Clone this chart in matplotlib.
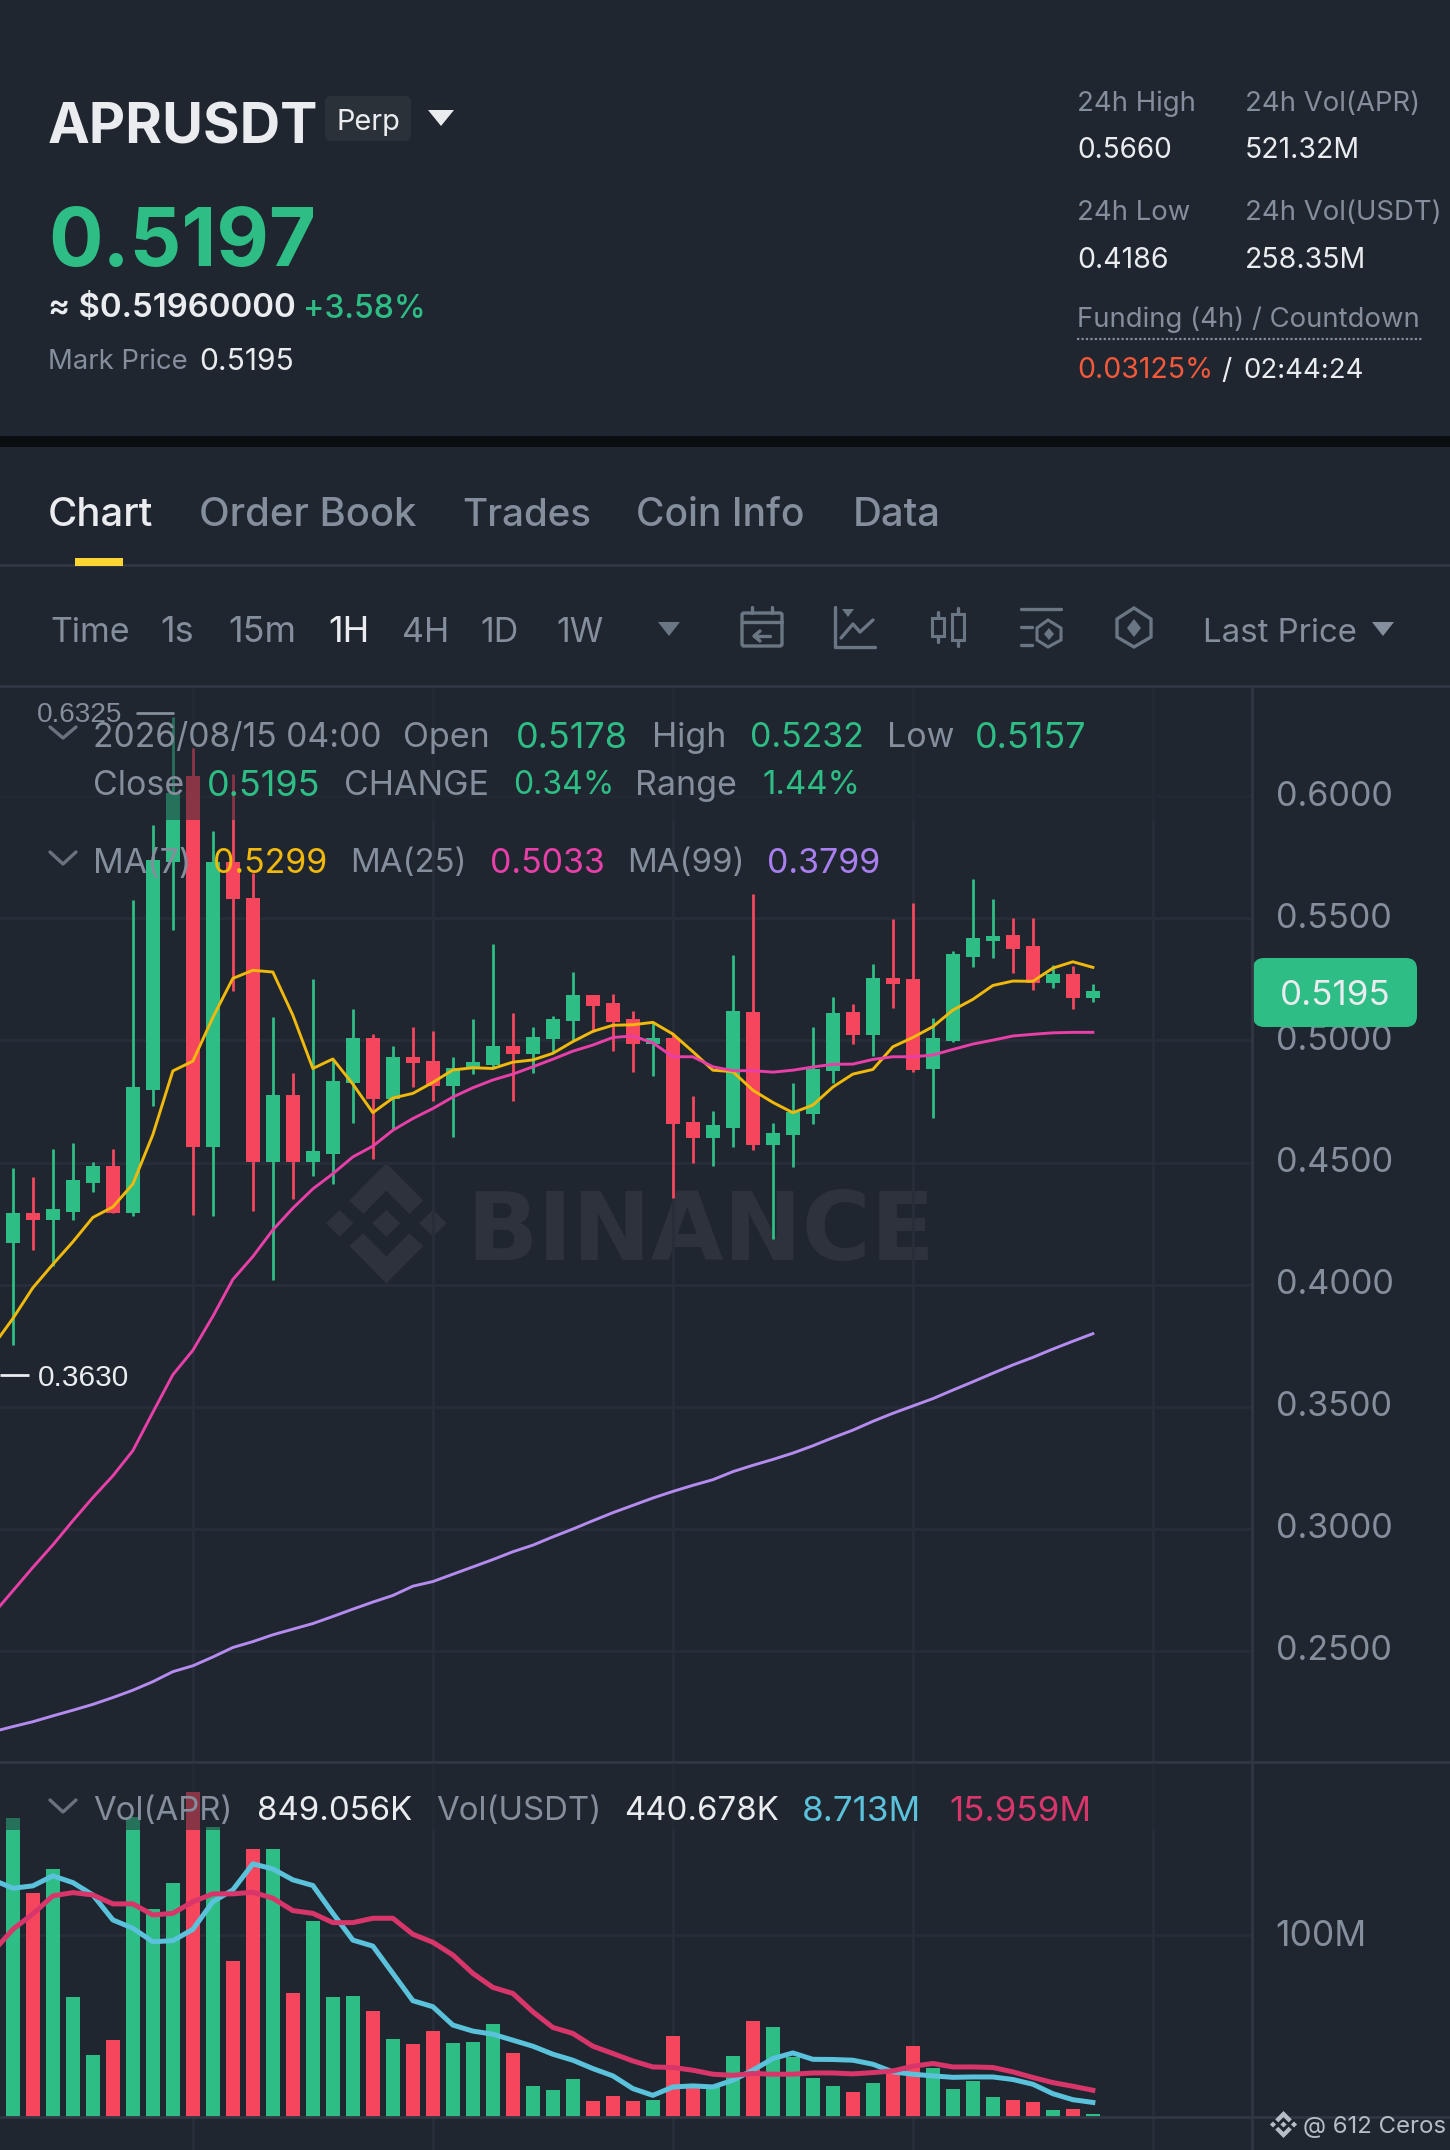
import matplotlib
matplotlib.use('Agg')
import matplotlib.pyplot as plt
from matplotlib.patches import Polygon, Rectangle, FancyBboxPatch
from matplotlib.lines import Line2D
from matplotlib.ticker import FixedLocator, FuncFormatter
from matplotlib.transforms import ScaledTranslation

plt.rcParams['font.family'] = ['Inter', 'DejaVu Sans']

BG = '#1f2630'
GREEN = '#2ebd85'
RED = '#f6465d'
GRAY = '#848e9c'
WHITE = '#eaecef'
LINE = '#303744'
GRID = '#272e39'
WM = '#2e323d'
ICON = '#6b7685'
YELLOW = '#f0b90b'
PINK = '#e83fa8'
PURPLE = '#b58bf0'
BLUE = '#5bc2dc'
CRIMSON = '#d8366a'

# candles
opens = [.4170, .4292, .4264, .4297, .4418, .4484, .4294, .4798, .5730, .6082, .4565, .5730, .5585, .4501,
         .4776, .4501, .4535, .4824, .5011, .4762, .4934, .4917, .4815, .4885, .4900, .4979, .4943, .5004,
         .5078, .5184, .5153, .5087, .4986, .5011, .4665, .4600, .4641, .5116, .4570, .4611, .4698, .4873,
         .5115, .5022, .5255, .5251, .4881, .4996, .5343, .5406, .5430, .5387, .5234, .5272, .5174]
closes = [.4292, .4265, .4309, .4427, .4484, .4294, .4811, .5739, .6012, .4565, .5730, .5577, .4501, .4776,
          .4501, .4546, .4834, .5011, .4762, .4934, .4907, .4815, .4885, .4911, .4979, .4943, .5013, .5087,
          .5184, .5142, .5077, .4986, .5011, .4656, .4600, .4652, .5119, .4572, .4619, .4708, .4884, .5113,
          .5022, .5254, .5232, .4878, .5008, .5352, .5419, .5429, .5376, .5234, .5272, .5174, .5201]
highs = [.4478, .4441, .4557, .4578, .4501, .4557, .5573, .5884, .6326, .6198, .5856, .6091, .5686, .5097,
         .4866, .5250, .4924, .5129, .5028, .4977, .5056, .5037, .4930, .5086, .5393, .5112, .5054, .5100,
         .5279, .5187, .5190, .5122, .5077, .5029, .4771, .4712, .5348, .5600, .4663, .4824, .5056, .5176,
         .5149, .5312, .5496, .5564, .5090, .5367, .5660, .5578, .5500, .5500, .5307, .5305, .5232]
lows = [.3754, .4143, .4077, .4265, .4378, .4294, .4279, .4730, .5451, .4284, .4279, .5203, .4303, .4017,
        .4350, .4444, .4412, .4663, .4516, .4636, .4809, .4753, .4606, .4862, .4887, .4753, .4868, .4954,
        .4999, .5036, .4958, .4872, .4855, .4355, .4500, .4486, .4562, .4553, .4187, .4480, .4656, .4827,
        .4986, .4936, .5131, .4872, .4684, .4995, .5302, .5339, .5277, .5206, .5213, .5128, .5157]

# moving averages start one candle left of the visible edge
ma7 = [.3748, .3861, .3987, .4083, .4175, .4275, .4318, .4412, .4614, .4875, .4915, .5094, .5254, .5287, .5280,
       .5103, .4885, .4924, .4821, .4704, .4764, .4783, .4828, .4879, .4888, .4885, .4911, .4920, .4947, .4995,
       .5037, .5062, .5064, .5074, .5026, .4954, .4878, .4872, .4796, .4746, .4704, .4735, .4809, .4862, .4881,
       .4974, .5012, .5056, .5124, .5168, .5225, .5243, .5242, .5296, .5322, .5299]
ma25 = [.2650, .2746, .2842, .2934, .3033, .3128, .3217, .3320, .3477, .3631, .3731, .3870, .4021, .4115, .4224,
        .4313, .4392, .4454, .4523, .4567, .4632, .4680, .4721, .4768, .4806, .4838, .4862, .4892, .4923, .4956,
        .4981, .5012, .5018, .4990, .4933, .4933, .4892, .4876, .4876, .4870, .4878, .4891, .4902, .4903, .4922,
        .4933, .4933, .4940, .4963, .4985, .5001, .5018, .5025, .5031, .5033, .5033]
ma99 = [.2169, .2190, .2210, .2234, .2257, .2281, .2309, .2339, .2374, .2415, .2439, .2475, .2514, .2538, .2566,
        .2589, .2612, .2641, .2671, .2700, .2727, .2765, .2784, .2814, .2844, .2874, .2906, .2933, .2967, .2999,
        .3033, .3066, .3096, .3126, .3153, .3178, .3201, .3234, .3260, .3284, .3310, .3340, .3373, .3404, .3440,
        .3473, .3503, .3533, .3568, .3602, .3637, .3671, .3702, .3736, .3768, .3799]

# volume in millions
volumes = [164.2, 123.1, 136.3, 66.1, 34.3, 42.2, 164.8, 114.1, 128.4, 178.5, 159.1, 85.9, 147.2, 147.2, 68.4,
           107.5, 66.1, 66.4, 58.2, 42.6, 40.0, 47.0, 40.4, 41.1, 51.2, 35.0, 17.1, 14.7, 21.1, 8.8, 11.7, 8.6,
           9.2, 44.4, 18.3, 16.5, 33.4, 52.7, 49.7, 33.0, 21.7, 16.9, 13.6, 18.9, 24.8, 38.9, 27.0, 15.6, 19.6,
           11.2, 9.2, 8.3, 3.7, 4.4, 1.8]
vol_ma_a = [130.3, 125.7, 127.0, 132.5, 128.8, 122.0, 108.3, 103.7, 96.3, 96.9, 103.1, 118.3, 124.8, 139.1, 136.3,
            130.3, 127.2, 111.9, 97.2, 93.9, 78.9, 63.9, 60.6, 50.5, 47.2, 45.5, 42.2, 38.9, 34.5, 31.2, 26.6,
            22.6, 15.6, 11.9, 16.5, 17.1, 16.5, 20.2, 25.7, 32.1, 35.2, 31.7, 31.6, 31.2, 29.0, 24.8, 23.5, 22.6,
            21.8, 22.0, 22.0, 20.6, 18.0, 12.8, 9.5, 8.0]
vol_ma_b = [90.8, 103.1, 111.6, 121.5, 123.3, 122.0, 117.1, 117.1, 111.0, 111.9, 118.3, 122.6, 122.6, 123.5, 120.2,
            113.4, 111.9, 106.8, 106.8, 109.2, 109.2, 100.4, 96.0, 89.0, 78.9, 71.2, 67.9, 57.8, 49.2, 45.9, 38.9,
            34.9, 30.8, 27.5, 27.2, 25.7, 23.5, 22.9, 23.9, 23.5, 23.5, 24.2, 24.2, 23.7, 24.4, 25.3, 27.9, 29.4,
            27.5, 27.5, 27.2, 24.8, 21.7, 18.9, 16.9, 14.7]

price_ticks = [.25, .30, .35, .40, .45, .50, .55, .60]
time_ticks = [9, 21, 33, 45, 57]

W, H = 1450, 2150
AX_R = 1252
PRICE_TOP, PRICE_BOT = 686, 1761.7
VOL_BOT = H

fig = plt.figure(figsize=(14.5, 21.5), dpi=100, facecolor=BG)


def make_axes(left, top, right, bottom, z):
    a = fig.add_axes([left / W, 1 - bottom / H, (right - left) / W, (bottom - top) / H], zorder=z)
    a.patch.set_visible(False)
    return a


under = make_axes(0, 0, W, H, 0)
ax = make_axes(0, PRICE_TOP, AX_R, PRICE_BOT, 1)
axv = make_axes(0, PRICE_BOT, AX_R, VOL_BOT, 1)
top = make_axes(0, 0, W, H, 3)
for a in (under, top):
    a.set_xlim(0, W)
    a.set_ylim(H, 0)
    a.axis('off')


# watermark under the candles
def logo(px, py, scale, target, color, zorder=1):
    shapes = [
        [(0, -60), (37, -22.7), (23, -9.3), (0, -32.7), (-23, -9.3), (-37, -22.7)],
        [(0, 60), (37, 22.7), (23, 10), (0, 33.3), (-23, 10), (-37, 22.7)],
        [(0, -13.3), (14, 0), (0, 13.3), (-14, 0)],
        [(-46.7, -13.3), (-33, 0), (-46.7, 13.3), (-60.4, 0)],
        [(46.7, -13.3), (60.4, 0), (46.7, 13.3), (33, 0)],
    ]
    for s in shapes:
        target.add_patch(Polygon([(px + a * scale, py + b * scale) for a, b in s], closed=True, fc=color, ec='none', zorder=zorder))


logo(386.3, 1223.3, 1, under, WM)
under.text(466, 1224, 'BINANCE', color=WM, fontsize=67.5, fontweight='bold', family='DejaVu Sans', ha='left', va='center_baseline')

# price pane
xs = list(range(len(opens)))
ma_xs = list(range(-1, len(opens)))
up = [c >= o for o, c in zip(opens, closes)]
colors = [GREEN if u else RED for u in up]
ax.vlines(xs, lows, highs, colors=colors, linewidth=2.0, zorder=3)
ax.bar(xs, [abs(c - o) for o, c in zip(opens, closes)], bottom=[min(o, c) for o, c in zip(opens, closes)],
       width=0.7, color=colors, zorder=3)
ax.plot(ma_xs, ma7, color=YELLOW, lw=2.1, zorder=4)
ax.plot(ma_xs, ma25, color=PINK, lw=2.1, zorder=4)
ax.plot(ma_xs, ma99, color=PURPLE, lw=2.1, zorder=4)

# x runs so that candle 0 is at pixel 12.86, 20 px per candle
x_left = -12.86 / 20
x_right = (AX_R - 12.86) / 20
ax.set_xlim(x_left, x_right)
ax.set_ylim(.55 - (PRICE_BOT - 918.3) / 122.1 * .05, .55 + (918.3 - PRICE_TOP) / 122.1 * .05)
ax.yaxis.tick_right()
ax.yaxis.set_major_locator(FixedLocator(price_ticks))
ax.yaxis.set_major_formatter(FuncFormatter(lambda v, p: '%.4f' % v))
ax.xaxis.set_major_locator(FixedLocator(time_ticks))
ax.tick_params(axis='x', length=0, labelbottom=False)
ax.tick_params(axis='y', length=0, pad=17, labelcolor=GRAY, labelsize=24.6)
ax.grid(True, color=GRID, lw=2.0, zorder=0)
ax.set_axisbelow(True)
for s in ax.spines.values():
    s.set_visible(False)
for lab in ax.get_yticklabels():
    lab.set_transform(lab.get_transform() + ScaledTranslation(0, 3 / 100, fig.dpi_scale_trans))

ax.hlines(.3630, x_left, x_left + 29 / 20, color=WHITE, lw=2.0, zorder=5)
ax.annotate('0.3630', (x_left + 38 / 20, .3630), xytext=(0, -2), textcoords='offset points', color=WHITE, fontsize=21.5,
            va='center', ha='left', family=['Liberation Sans', 'DejaVu Sans'], zorder=5)

# volume pane
axv.bar(xs, volumes, width=0.7, color=colors, zorder=3)
axv.plot(ma_xs, vol_ma_a, color=BLUE, lw=3.6, zorder=4)
axv.plot(ma_xs, vol_ma_b, color=CRIMSON, lw=3.6, zorder=4)
axv.set_xlim(x_left, x_right)
axv.set_ylim(-(VOL_BOT - 2117) / 1.82, (2117 - PRICE_BOT) / 1.82)
axv.yaxis.tick_right()
axv.yaxis.set_major_locator(FixedLocator([100]))
axv.yaxis.set_major_formatter(FuncFormatter(lambda v, p: '%dM' % v))
axv.xaxis.set_major_locator(FixedLocator(time_ticks))
axv.tick_params(axis='x', length=0, labelbottom=False)
axv.tick_params(axis='y', length=0, pad=17, labelcolor=GRAY, labelsize=25.5)
axv.grid(True, color=GRID, lw=2.0, zorder=0)
axv.set_axisbelow(True)
for s in axv.spines.values():
    s.set_visible(False)
for lab in axv.get_yticklabels():
    lab.set_transform(lab.get_transform() + ScaledTranslation(0, 1.5 / 100, fig.dpi_scale_trans))


def T(x, y, s, size=35, color=GRAY, weight='normal', ha='left', family=None):
    kw = {'family': family} if family else {}
    top.text(x, y + 6, s, fontsize=size * 0.72, color=color, fontweight=weight, ha=ha, va='center', zorder=10, **kw)


def L(xa, ya, color=ICON, lw=2.4, **kw):
    top.add_line(Line2D(xa, ya, color=color, lw=lw, solid_capstyle='round', zorder=10, **kw))


def tri(x0, x1, y0, y1, color):
    top.add_patch(Polygon([(x0, y0), (x1, y0), ((x0 + x1) / 2, y1)], closed=True, fc=color, ec='none', zorder=10))


# dim bands behind the legends
top.add_patch(Rectangle((0, PRICE_TOP), AX_R, 820 - PRICE_TOP, fc=BG, ec='none', alpha=0.5, zorder=1))
top.add_patch(Rectangle((0, PRICE_BOT), AX_R, 1830 - PRICE_BOT, fc=BG, ec='none', alpha=0.5, zorder=1))

# rules
top.add_patch(Rectangle((0, 436), W, 11, fc='#0b0e11', ec='none', zorder=2))
for yy in (565, 686, PRICE_BOT, 2117):
    L([0, W], [yy, yy], color=LINE, lw=2.0)
L([AX_R, AX_R], [PRICE_TOP, H], color=LINE, lw=2.0)
top.add_patch(Rectangle((75, 558), 48, 8, fc='#fcd535', ec='none', zorder=11))

# header
T(48, 122, 'APRUSDT', 56, WHITE, 'bold')
top.add_patch(FancyBboxPatch((325, 96), 86, 45, boxstyle='round,pad=0,rounding_size=6', fc='#2b3139', ec='none', zorder=9))
T(368, 116, 'Perp', 29, WHITE, ha='center')
tri(428, 454, 110, 126, WHITE)
T(48, 239, '0.5197', 81, GREEN, 'bold')
T(48, 303, '≈ $0.51960000', 33, WHITE, 'semibold')
T(303, 303, '+3.58%', 32, GREEN, 'medium')
T(48, 356, 'Mark Price', 27.5, GRAY)
T(199, 356, '0.5195', 30, WHITE)

T(1077, 98, '24h High', 27.5)
T(1077, 145, '0.5660', 28, WHITE)
T(1245, 98, '24h Vol(APR)', 27.5)
T(1245, 145, '521.32M', 28.5, WHITE)
T(1077, 207, '24h Low', 27.5)
T(1077, 254, '0.4186', 28.5, WHITE)
T(1245, 207, '24h Vol(USDT)', 27.5)
T(1245, 254, '258.35M', 28.5, WHITE)
T(1077, 314, 'Funding (4h) / Countdown', 27.5)
top.plot([1077, 1422], [339, 339], color=GRAY, lw=1.6, linestyle=(0, (1, 1)), zorder=10)
T(1077, 365, '0.03125%', 28.5, '#f6593a')
T(1221, 365, '/', 28.5, WHITE)
T(1243, 365, '02:44:24', 27.5, WHITE)

# tabs
T(48, 510, 'Chart', 40, WHITE, 'medium')
T(199, 510, 'Order Book', 40, GRAY, 'medium')
T(462, 510, 'Trades', 38.5, GRAY, 'medium')
T(636, 510, 'Coin Info', 39, GRAY, 'medium')
T(853, 510, 'Data', 40, GRAY, 'medium')

# toolbar
T(50, 627, 'Time', 34)
T(160, 627, '1s', 36)
T(228, 627, '15m', 36)
T(328, 627, '1H', 36, WHITE)
T(402, 627, '4H', 34)
T(480, 627, '1D', 34)
T(556, 627, '1W', 34)
tri(658, 680, 622, 636, ICON)
T(1203, 627, 'Last Price', 33)
tri(1372, 1394, 622, 636, GRAY)

# calendar icon
top.add_patch(FancyBboxPatch((742, 613), 40, 33, boxstyle='round,pad=0,rounding_size=2', fc='none', ec=ICON, lw=2.4, zorder=10))
L([742, 782], [622, 622])
L([752, 752], [607, 613])
L([772, 772], [607, 613])
L([754, 770], [636, 636])
L([760, 754, 760], [631, 636, 641])
# line chart icon
L([835, 835, 875], [607, 647, 647])
L([841, 853, 860, 873], [638, 624, 632, 620])
tri(842, 854, 609, 617, ICON)
# candle icon
for cx, y0, y1, w0, w1 in ((938, 612, 642, 618, 636), (958, 608, 646, 614, 640)):
    L([cx, cx], [y0, y1])
    top.add_patch(Rectangle((cx - 6, w0), 12, w1 - w0, fc=BG, ec=ICON, lw=2.2, zorder=10))
# settings icon
L([1021, 1061], [609, 609])
L([1021, 1032], [627, 627])
L([1021, 1032], [645, 645])
top.add_patch(Polygon([(1048, 620), (1061, 628), (1061, 640), (1048, 647), (1037, 640), (1037, 628)], closed=True, fc='none', ec=ICON, lw=2.2, zorder=10))
top.add_patch(Polygon([(1049, 628), (1054, 634), (1049, 640), (1044, 634)], closed=True, fc=ICON, ec='none', zorder=10))
# hexagon icon
top.add_patch(Polygon([(1134, 608), (1151, 619), (1151, 637), (1134, 647), (1117, 637), (1117, 619)], closed=True, fc='none', ec=ICON, lw=2.4, zorder=10))
top.add_patch(Polygon([(1134, 619), (1141, 628), (1134, 637), (1127, 628)], closed=True, fc=ICON, ec='none', zorder=10))

# legends
CH = '#69727f'
L([50, 63, 76], [727, 738, 727], color=CH, lw=2.4)
L([50, 63, 76], [852, 864, 852], color=CH, lw=2.4)
L([50, 63, 76], [1800, 1812, 1800], color=CH, lw=2.4)
T(37, 709, '0.6325', 28, GRAY, family=['Liberation Sans', 'DejaVu Sans'])
L([137, 173], [713, 713], color=GRAY, lw=2.0)
T(93, 732, '2026/08/15 04:00', 33.7)
T(403, 732, 'Open', 34)
T(516, 732, '0.5178', 36, GREEN)
T(652, 732, 'High', 34)
T(750, 732, '0.5232', 34, GREEN)
T(887, 732, 'Low', 34)
T(975, 732, '0.5157', 36, GREEN)
T(93, 780, 'Close', 34)
T(207, 780, '0.5195', 36, GREEN)
T(344, 780, 'CHANGE', 34)
T(513, 780, '0.34%', 32, GREEN)
T(635, 780, 'Range', 34)
T(763, 780, '1.44%', 33, GREEN)
T(93, 858, 'MA(7)', 34)
T(213, 858, '0.5299', 34, YELLOW)
T(350, 858, 'MA(25)', 33)
T(490, 858, '0.5033', 34, PINK)
T(627, 858, 'MA(99)', 33)
T(767, 858, '0.3799', 34, '#a97ff0')
T(93, 1806, 'Vol(APR)', 33)
T(257, 1806, '849.056K', 33, WHITE)
T(436, 1806, 'Vol(USDT)', 33)
T(624, 1806, '440.678K', 33, WHITE)
T(802, 1806, '8.713M', 35, BLUE)
T(949, 1806, '15.959M', 35, CRIMSON)

# last price badge
top.add_patch(FancyBboxPatch((1253, 958), 164, 69, boxstyle='round,pad=0,rounding_size=11', fc=GREEN, ec='none', zorder=9))
T(1335, 990, '0.5195', 35, WHITE, ha='center')

# credit, bottom right
logo(1283.5, 2124.5, 0.225, top, '#b7bdc6', zorder=10)
T(1303, 2121, '@ 612 Ceros', 24, '#b7bdc6')

fig.savefig('out.png', dpi=100, facecolor=BG)
